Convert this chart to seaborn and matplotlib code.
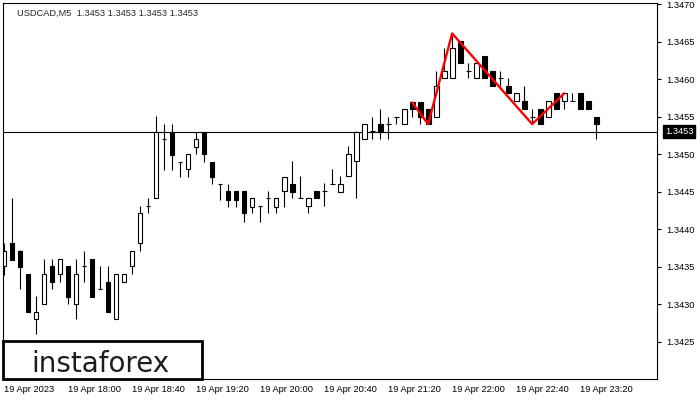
import matplotlib
matplotlib.use("Agg")
import matplotlib.pyplot as plt
import matplotlib.patches as mpatches
import matplotlib.transforms as mtransforms
import numpy as np
import pandas as pd
import seaborn as sns

# USDCAD M5 candles
opens = [1.34351, 1.34381, 1.34371, 1.34340, 1.34280, 1.34300, 1.34351, 1.34340, 1.34351, 1.34300,
         1.34351, 1.34360, 1.34320, 1.34330, 1.34280, 1.34329, 1.34351, 1.34381, 1.34431, 1.34441,
         1.34520, 1.34529, 1.34489, 1.34480, 1.34509, 1.34529, 1.34489, 1.34460, 1.34451, 1.34451,
         1.34451, 1.34429, 1.34431, 1.34441, 1.34429, 1.34451, 1.34460, 1.34441, 1.34431, 1.34451,
         1.34451, 1.34460, 1.34449, 1.34471, 1.34491, 1.34520, 1.34531, 1.34540, 1.34540, 1.34549,
         1.34540, 1.34569, 1.34569, 1.34560, 1.34549, 1.34601, 1.34601, 1.34651, 1.34611, 1.34601,
         1.34631, 1.34611, 1.34601, 1.34591, 1.34571, 1.34571, 1.34549, 1.34560, 1.34549, 1.34581,
         1.34571, 1.34571, 1.34581, 1.34571, 1.34549]
highs = [1.34381, 1.34441, 1.34372, 1.34340, 1.34311, 1.34360, 1.34360, 1.34360, 1.34351, 1.34360,
         1.34371, 1.34360, 1.34351, 1.34351, 1.34340, 1.34340, 1.34371, 1.34431, 1.34441, 1.34551,
         1.34540, 1.34540, 1.34489, 1.34500, 1.34529, 1.34529, 1.34489, 1.34460, 1.34460, 1.34451,
         1.34451, 1.34441, 1.34431, 1.34451, 1.34441, 1.34469, 1.34491, 1.34471, 1.34441, 1.34451,
         1.34461, 1.34480, 1.34471, 1.34511, 1.34531, 1.34540, 1.34549, 1.34560, 1.34549, 1.34549,
         1.34560, 1.34569, 1.34569, 1.34560, 1.34611, 1.34641, 1.34661, 1.34651, 1.34621, 1.34621,
         1.34631, 1.34611, 1.34611, 1.34601, 1.34581, 1.34591, 1.34560, 1.34560, 1.34571, 1.34581,
         1.34581, 1.34581, 1.34581, 1.34571, 1.34549]
lows = [1.34339, 1.34359, 1.34320, 1.34289, 1.34260, 1.34300, 1.34320, 1.34329, 1.34300, 1.34280,
        1.34329, 1.34309, 1.34320, 1.34289, 1.34280, 1.34329, 1.34340, 1.34371, 1.34421, 1.34441,
        1.34479, 1.34479, 1.34469, 1.34469, 1.34500, 1.34489, 1.34460, 1.34439, 1.34429, 1.34429,
        1.34409, 1.34421, 1.34409, 1.34421, 1.34421, 1.34429, 1.34441, 1.34441, 1.34421, 1.34441,
        1.34431, 1.34460, 1.34449, 1.34471, 1.34441, 1.34520, 1.34520, 1.34520, 1.34520, 1.34540,
        1.34540, 1.34549, 1.34540, 1.34540, 1.34549, 1.34601, 1.34601, 1.34621, 1.34601, 1.34601,
        1.34601, 1.34591, 1.34591, 1.34581, 1.34571, 1.34560, 1.34540, 1.34540, 1.34549, 1.34560,
        1.34560, 1.34571, 1.34560, 1.34560, 1.34520]
closes = [1.34371, 1.34359, 1.34349, 1.34289, 1.34289, 1.34340, 1.34329, 1.34360, 1.34309, 1.34340,
          1.34351, 1.34309, 1.34320, 1.34289, 1.34340, 1.34340, 1.34371, 1.34421, 1.34431, 1.34529,
          1.34520, 1.34499, 1.34489, 1.34500, 1.34520, 1.34500, 1.34469, 1.34460, 1.34439, 1.34439,
          1.34421, 1.34441, 1.34431, 1.34441, 1.34441, 1.34469, 1.34449, 1.34441, 1.34441, 1.34441,
          1.34451, 1.34460, 1.34460, 1.34500, 1.34529, 1.34540, 1.34531, 1.34529, 1.34540, 1.34549,
          1.34560, 1.34560, 1.34549, 1.34540, 1.34591, 1.34611, 1.34641, 1.34621, 1.34611, 1.34621,
          1.34601, 1.34591, 1.34601, 1.34581, 1.34581, 1.34560, 1.34549, 1.34540, 1.34571, 1.34560,
          1.34581, 1.34571, 1.34560, 1.34560, 1.34540]

time_ticks = [0, 8, 16, 24, 32, 40, 48, 56, 64, 72]
time_labels = ["19 Apr 2023", "19 Apr 18:00", "19 Apr 18:40", "19 Apr 19:20", "19 Apr 20:00",
               "19 Apr 20:40", "19 Apr 21:20", "19 Apr 22:00", "19 Apr 22:40", "19 Apr 23:20"]
price_ticks = [1.3425, 1.3430, 1.3435, 1.3440, 1.3445, 1.3450, 1.3455, 1.3460, 1.3465, 1.3470]

# "head and shoulders"-like pattern drawn in red
pattern_bars = [51, 53, 56, 66, 70]
pattern_prices = [1.34569, 1.34540, 1.34661, 1.34540, 1.34581]

last_price = 1.3453
title = "USDCAD,M5  1.3453 1.3453 1.3453 1.3453"


def main():
    sns.set_style("white")
    plt.rcParams['font.family'] = ['Liberation Sans', 'DejaVu Sans']

    fig = plt.figure(figsize=(7, 4), dpi=100)
    ax = fig.add_axes([0.0039, 0.0525, 0.9347, 0.9408])

    df = pd.DataFrame({"o": opens, "h": highs, "l": lows, "c": closes})
    df["bar"] = np.arange(len(df))
    df["bottom"] = df[["o", "c"]].min(axis=1)
    df["height"] = (df["c"] - df["o"]).abs()
    bull = df["c"] >= df["o"]

    # wicks, then bodies on top
    ax.vlines(df["bar"], df["l"], df["h"], color="black", lw=0.8, zorder=1)
    ax.bar(df["bar"][bull], df["height"][bull], bottom=df["bottom"][bull], width=0.6,
           color="white", edgecolor="black", lw=0.8, zorder=2)
    ax.bar(df["bar"][~bull], df["height"][~bull], bottom=df["bottom"][~bull], width=0.6,
           color="black", edgecolor="black", lw=0.8, zorder=2)

    sns.lineplot(x=pattern_bars, y=pattern_prices, color="#ff0000", lw=1.7, ax=ax, zorder=3)

    ax.axhline(last_price, color="black", lw=0.8, zorder=1)

    ax.set_xlim(-0.16, 81.6)
    ax.set_ylim(1.34200, 1.34702)

    ax.yaxis.tick_right()
    ax.set_yticks(price_ticks)
    ax.set_yticklabels([f"{p:.4f}" for p in price_ticks])
    ax.set_xticks(time_ticks)
    ax.set_xticklabels(time_labels)
    for lbl in ax.get_xticklabels():
        lbl.set_ha("left")
    ax.tick_params(axis="both", direction="out", length=3, width=0.8, labelsize=6.7,
                   colors="black", pad=1.5)
    ax.tick_params(axis="y", pad=4)
    for s in ax.spines.values():
        s.set_color("black")
        s.set_linewidth(0.8)
    ax.set_xlabel("")
    ax.set_ylabel("")

    # current price label on the price scale
    trans = mtransforms.blended_transform_factory(ax.transAxes, ax.transData)
    ax.text(1.012, last_price, f"{last_price:.4f}", transform=trans, color="white",
            fontsize=6.7, va="center", ha="left",
            bbox=dict(facecolor="black", edgecolor="black", pad=1.2))

    fig.text(17 / 700, 1 - 13 / 400, title, fontsize=6.7, va="center", ha="left")

    # watermark box
    ax.add_patch(mpatches.Rectangle((0, 0), 0.304, 0.102, transform=ax.transAxes,
                                    facecolor="white", edgecolor="black", lw=2,
                                    zorder=5, clip_on=False))
    ax.text(0.150, 0.0186, "instaforex", transform=ax.transAxes, fontsize=20,
            family="DejaVu Sans", color="#1e1e1e", ha="center", va="baseline", zorder=6)

    fig.savefig("out.png", dpi=100)


if __name__ == '__main__':
    main()
